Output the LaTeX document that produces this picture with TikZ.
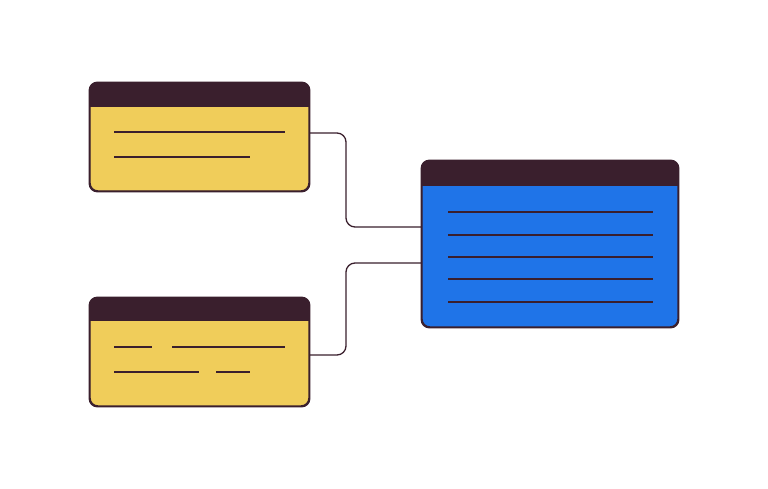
\documentclass[tikz,border=0pt]{standalone}
\usetikzlibrary{calc}
\definecolor{darkhead}{HTML}{3A1F2D}
\definecolor{cardyellow}{HTML}{F0CD5A}
\definecolor{cardblue}{HTML}{1F74E8}
\tikzset{
  card/.style={draw=darkhead, line width=1.4pt, rounded corners=8pt, inner sep=0pt},
  ycard/.style={card, fill=cardyellow},
  bcard/.style={card, fill=cardblue},
  textline/.style={draw=darkhead, line width=1.6pt},
  conn/.style={draw=darkhead, line width=1.3pt, rounded corners=9pt},
}
\newcommand{\cardhead}[2]{%
  \begin{scope}
    \clip[rounded corners=8pt] (#1.north west) rectangle (#1.south east);
    \fill[darkhead] (#1.north west) rectangle ([yshift=-#2]#1.north east);
  \end{scope}
  \draw[card] (#1.north west) rectangle (#1.south east);
}
\begin{document}
\begin{tikzpicture}[x=1pt,y=-1pt]
\useasboundingbox (0,0) rectangle (768,489);
\fill[white] (0,0) rectangle (768,489);
\node[ycard, minimum width=219pt, minimum height=108pt] (A) at (199.5,137) {};
\node[ycard, minimum width=219pt, minimum height=108pt] (B) at (199.5,352) {};
\node[bcard, minimum width=256pt, minimum height=166pt] (C) at (550,244) {};
\cardhead{A}{25pt}
\cardhead{B}{24pt}
\cardhead{C}{26pt}
% connectors
\draw[conn] ([yshift=4pt]A.east) -| (346,180) |- ([yshift=17pt]C.west);
\draw[conn] ([yshift=-3pt]B.east) -| (346,300) |- ([yshift=-19pt]C.west);
% text lines, card A
\draw[textline] (114,132) -- (285,132);
\draw[textline] (114,157) -- (250,157);
% card B
\draw[textline] (114,347) -- (152,347);
\draw[textline] (172,347) -- (285,347);
\draw[textline] (114,372) -- (199,372);
\draw[textline] (216,372) -- (250,372);
% card C
\foreach \yy in {212,235,257,279,302}
  \draw[textline] (448,\yy) -- (653,\yy);
\end{tikzpicture}
\end{document}
